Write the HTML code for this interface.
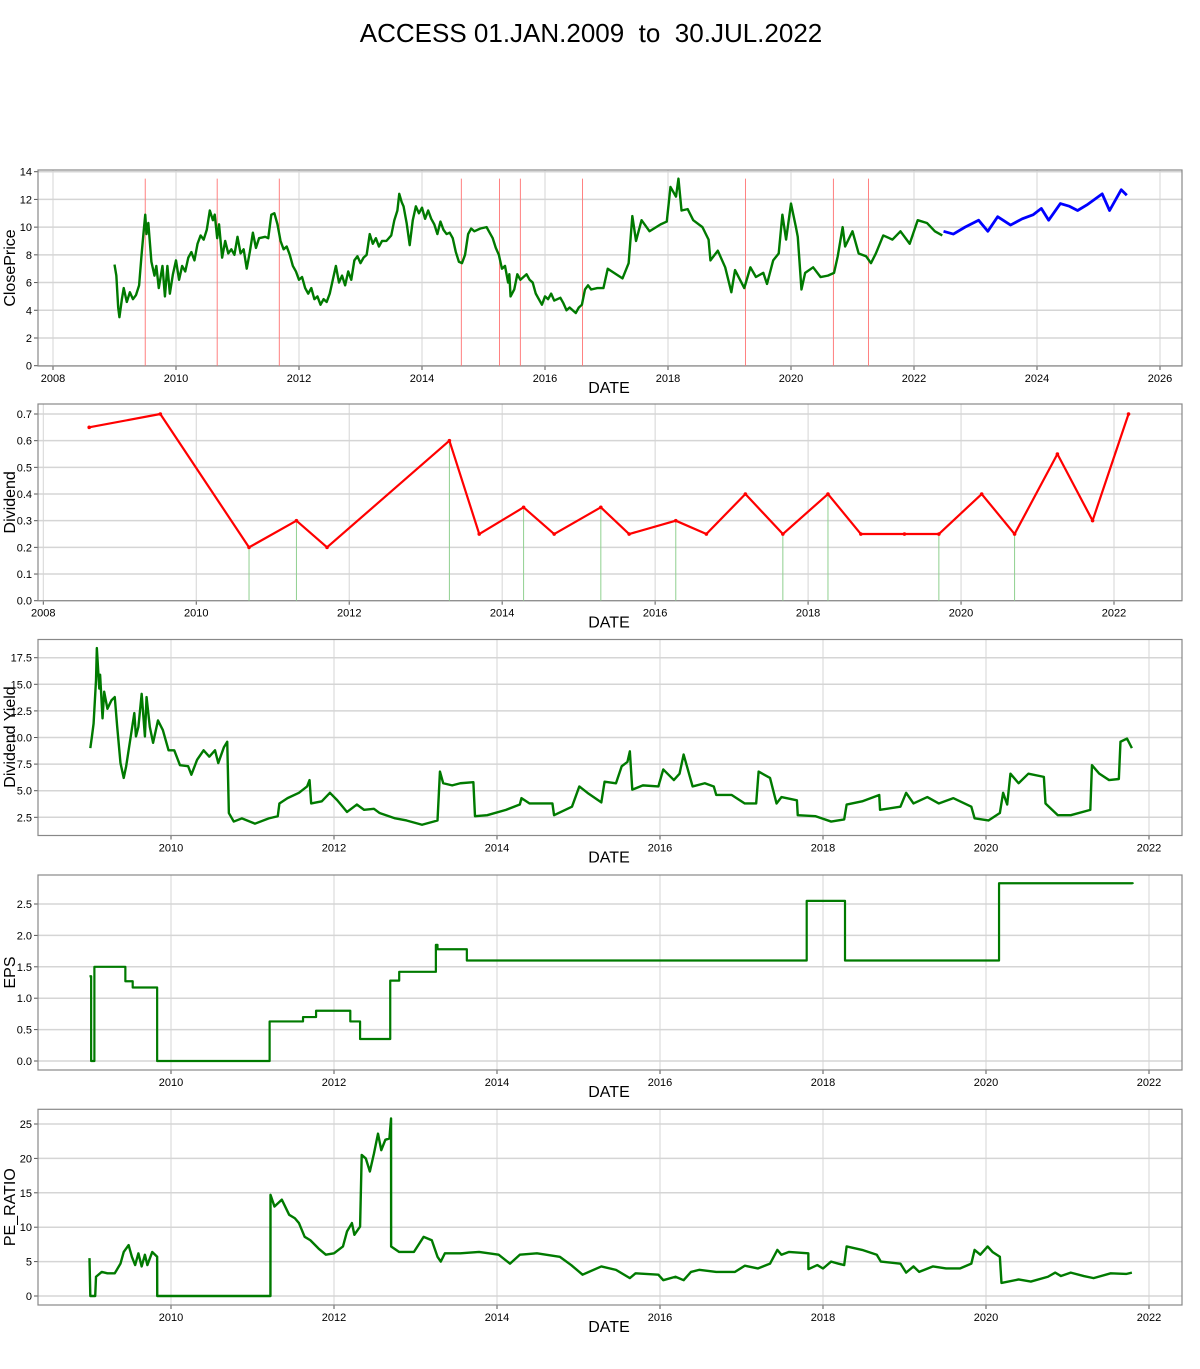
<!DOCTYPE html>
<html><head><meta charset="utf-8"><style>
html,body{margin:0;padding:0;background:#fff;}
svg{display:block;font-family:"Liberation Sans","DejaVu Sans",sans-serif;}
</style></head><body>
<svg id="chart" width="1200" height="1369" viewBox="0 0 1200 1369" xmlns="http://www.w3.org/2000/svg">
<rect width="1200" height="1369" fill="#fff"/>
<text x="591" y="42" font-size="26" text-anchor="middle" fill="#000" xml:space="preserve" style="white-space:pre">ACCESS 01.JAN.2009  to  30.JUL.2022</text>
</svg>
<script>
// ---- Close price data ----
const closeDates=[2009.0,2009.03,2009.06,2009.08,2009.12,2009.15,2009.2,2009.25,2009.3,2009.35,2009.4,2009.44,2009.47,2009.5,2009.52,2009.55,2009.6,2009.65,2009.68,2009.72,2009.78,2009.82,2009.86,2009.9,2009.95,2010.0,2010.05,2010.1,2010.15,2010.2,2010.25,2010.3,2010.35,2010.4,2010.45,2010.5,2010.55,2010.6,2010.63,2010.67,2010.7,2010.75,2010.8,2010.85,2010.9,2010.95,2011.0,2011.05,2011.1,2011.15,2011.2,2011.25,2011.3,2011.35,2011.45,2011.5,2011.55,2011.6,2011.65,2011.7,2011.75,2011.8,2011.85,2011.9,2011.95,2012.0,2012.05,2012.1,2012.15,2012.2,2012.25,2012.3,2012.35,2012.4,2012.45,2012.5,2012.55,2012.6,2012.65,2012.7,2012.75,2012.8,2012.85,2012.9,2012.95,2013.0,2013.05,2013.1,2013.15,2013.2,2013.25,2013.3,2013.35,2013.42,2013.5,2013.55,2013.6,2013.63,2013.67,2013.7,2013.75,2013.8,2013.85,2013.9,2013.95,2014.0,2014.05,2014.1,2014.15,2014.2,2014.25,2014.3,2014.35,2014.4,2014.45,2014.5,2014.55,2014.6,2014.65,2014.7,2014.75,2014.8,2014.85,2014.95,2015.05,2015.1,2015.15,2015.2,2015.25,2015.3,2015.35,2015.4,2015.42,2015.44,2015.5,2015.55,2015.6,2015.65,2015.7,2015.75,2015.8,2015.85,2015.9,2015.95,2016.0,2016.05,2016.1,2016.15,2016.25,2016.3,2016.35,2016.4,2016.45,2016.5,2016.55,2016.6,2016.65,2016.7,2016.75,2016.85,2016.95,2017.02,2017.26,2017.36,2017.42,2017.48,2017.57,2017.7,2017.88,2017.98,2018.04,2018.13,2018.17,2018.22,2018.32,2018.41,2018.56,2018.66,2018.69,2018.81,2018.93,2019.03,2019.09,2019.24,2019.34,2019.43,2019.55,2019.61,2019.71,2019.8,2019.86,2019.92,2020.0,2020.08,2020.11,2020.17,2020.23,2020.36,2020.48,2020.6,2020.7,2020.76,2020.84,2020.88,2021.0,2021.1,2021.22,2021.3,2021.38,2021.5,2021.65,2021.78,2021.93,2022.06,2022.21,2022.34,2022.46];
const closeVals=[7.3,6.5,4.2,3.5,4.8,5.6,4.6,5.3,4.8,5.1,5.8,8,9.5,10.9,9.5,10.3,7.5,6.5,7.2,5.6,7.2,5.0,7.2,5.2,6.6,7.6,6.2,7.2,6.8,7.8,8.2,7.6,8.8,9.4,9.1,9.8,11.2,10.5,10.9,9.2,10.2,7.8,9.0,8.1,8.4,8.0,9.3,8.1,8.4,7.0,8.2,9.6,8.5,9.2,9.3,9.2,10.9,11.0,10.2,9.0,8.4,8.6,8.0,7.2,6.8,6.2,6.4,5.6,5.2,5.6,4.8,5.0,4.4,4.8,4.6,5.2,6.2,7.2,6.0,6.5,5.8,6.8,6.2,7.6,7.9,7.4,7.8,8.0,9.5,8.8,9.2,8.6,9.0,9.0,9.4,10.5,11.2,12.4,11.8,11.5,10.3,8.7,10.5,11.5,11.0,11.4,10.6,11.2,10.6,10.2,9.5,10.4,9.8,9.5,9.6,9.2,8.2,7.5,7.4,8.0,9.5,9.9,9.7,9.9,10.0,9.6,9.2,8.5,8.0,7.0,7.2,6.0,6.6,5.0,5.5,6.6,6.2,6.4,6.6,6.2,6.0,5.2,4.8,4.4,5.0,4.8,5.2,4.7,4.9,4.5,4.0,4.2,4.0,3.8,4.2,4.4,5.5,5.8,5.5,5.6,5.6,7.0,6.3,7.4,10.8,9.0,10.5,9.7,10.2,10.4,12.9,12.2,13.5,11.2,11.3,10.5,10.0,9.1,7.6,8.3,7.1,5.3,6.9,5.6,7.1,6.4,6.7,5.9,7.6,8.1,10.9,9.1,11.7,10.0,9.3,5.5,6.7,7.1,6.4,6.5,6.7,7.9,10.0,8.6,9.7,8.1,7.9,7.4,8.1,9.4,9.1,9.7,8.8,10.5,10.3,9.7,9.4];
const forecastDates=[2022.48,2022.64,2022.83,2023.05,2023.2,2023.36,2023.57,2023.76,2023.94,2024.07,2024.19,2024.38,2024.53,2024.66,2024.81,2025.06,2025.18,2025.37,2025.46];
const forecastVals=[9.7,9.5,10.0,10.5,9.7,10.75,10.15,10.6,10.9,11.35,10.5,11.7,11.5,11.2,11.6,12.4,11.2,12.7,12.3];
const exDivDates=[2009.5,2010.67,2011.68,2014.64,2015.26,2015.6,2016.61,2019.26,2020.69,2021.26];
const closeTicksY=[0,2,4,6,8,10,12,14];
const closeTicksX=[2008,2010,2012,2014,2016,2018,2020,2022,2024,2026];
// ---- Dividend data ----
const divDates=[2008.6,2009.53,2010.69,2011.31,2011.71,2013.31,2013.7,2014.28,2014.68,2015.29,2015.66,2016.27,2016.67,2017.18,2017.67,2018.26,2018.69,2019.26,2019.71,2020.27,2020.7,2021.26,2021.72,2022.19];
const divVals=[0.65,0.70,0.20,0.30,0.20,0.60,0.25,0.35,0.25,0.35,0.25,0.30,0.25,0.40,0.25,0.40,0.25,0.25,0.25,0.40,0.25,0.55,0.30,0.70];
const payDates=[2010.69,2011.31,2013.31,2014.28,2015.29,2016.27,2017.67,2018.26,2019.71,2020.7];
const payVals=[0.20,0.30,0.60,0.35,0.35,0.30,0.25,0.40,0.25,0.25];
const divTicksY=[0,0.1,0.2,0.3,0.4,0.5,0.6,0.7];
const divTicksX=[2008,2010,2012,2014,2016,2018,2020,2022];
// ---- Dividend yield ----
const yieldDates=[2009.01,2009.03,2009.05,2009.08,2009.09,2009.12,2009.13,2009.16,2009.18,2009.22,2009.27,2009.31,2009.34,2009.38,2009.42,2009.45,2009.5,2009.55,2009.57,2009.6,2009.64,2009.68,2009.7,2009.74,2009.78,2009.84,2009.9,2009.97,2010.04,2010.11,2010.21,2010.25,2010.32,2010.4,2010.47,2010.54,2010.58,2010.65,2010.69,2010.71,2010.77,2010.87,2011.03,2011.2,2011.31,2011.33,2011.43,2011.57,2011.67,2011.7,2011.72,2011.85,2011.95,2012.04,2012.16,2012.28,2012.37,2012.49,2012.56,2012.75,2012.89,2013.08,2013.27,2013.3,2013.34,2013.45,2013.55,2013.71,2013.73,2013.88,2014.11,2014.28,2014.3,2014.4,2014.68,2014.7,2014.92,2015.01,2015.11,2015.28,2015.32,2015.46,2015.53,2015.6,2015.63,2015.66,2015.79,2015.98,2016.04,2016.17,2016.24,2016.29,2016.4,2016.55,2016.66,2016.69,2016.88,2017.04,2017.18,2017.21,2017.35,2017.43,2017.49,2017.68,2017.69,2017.91,2018.1,2018.26,2018.29,2018.48,2018.69,2018.7,2018.95,2019.02,2019.11,2019.28,2019.42,2019.6,2019.82,2019.86,2020.03,2020.17,2020.21,2020.26,2020.3,2020.4,2020.52,2020.71,2020.73,2020.88,2021.04,2021.28,2021.3,2021.39,2021.51,2021.63,2021.65,2021.73,2021.79];
const yieldVals=[9.0,10.1,11.3,15.4,18.4,14.6,15.9,11.8,14.3,12.7,13.5,13.8,11.0,7.6,6.2,7.3,9.8,12.3,10.1,11.0,14.1,10.1,13.8,11.0,9.5,11.6,10.7,8.8,8.8,7.4,7.3,6.5,7.9,8.8,8.2,8.8,7.6,9.1,9.6,2.9,2.1,2.4,1.9,2.4,2.6,3.8,4.3,4.8,5.4,6.0,3.8,4.0,4.8,4.1,3.0,3.7,3.2,3.3,2.9,2.4,2.2,1.8,2.2,6.8,5.7,5.5,5.7,5.8,2.6,2.7,3.2,3.7,4.3,3.8,3.8,2.7,3.5,5.4,4.8,3.9,5.85,5.7,7.3,7.7,8.7,5.1,5.5,5.4,7.0,6.0,6.6,8.4,5.4,5.7,5.4,4.6,4.6,3.8,3.8,6.8,6.2,3.8,4.4,4.1,2.7,2.6,2.1,2.3,3.7,4.0,4.6,3.2,3.5,4.8,3.8,4.4,3.8,4.3,3.5,2.4,2.2,2.9,4.8,3.7,6.6,5.7,6.6,6.3,3.8,2.7,2.7,3.2,7.4,6.6,6.0,6.1,9.6,9.9,9.0];
const yieldTicksY=[2.5,5.0,7.5,10.0,12.5,15.0,17.5];
const lowTicksX=[2010,2012,2014,2016,2018,2020,2022];
// ---- EPS (step series) ----
const epsDates=[2009.0,2009.02,2009.06,2009.44,2009.53,2009.83,2011.21,2011.62,2011.78,2012.2,2012.32,2012.69,2012.8,2013.25,2013.27,2013.63,2017.8,2018.27,2020.16,2021.8];
const epsVals=[1.35,0,1.5,1.27,1.17,0,0.63,0.7,0.8,0.63,0.35,1.28,1.42,1.85,1.78,1.6,2.55,1.6,2.83,2.82];
const epsTicksY=[0,0.5,1.0,1.5,2.0,2.5];
// ---- PE ratio ----
const peDates=[2009.0,2009.01,2009.07,2009.08,2009.15,2009.22,2009.31,2009.38,2009.42,2009.48,2009.52,2009.56,2009.6,2009.64,2009.68,2009.71,2009.77,2009.83,2009.831,2011.22,2011.221,2011.27,2011.36,2011.45,2011.52,2011.57,2011.64,2011.71,2011.81,2011.9,2012.0,2012.11,2012.16,2012.22,2012.25,2012.32,2012.34,2012.39,2012.44,2012.49,2012.54,2012.58,2012.63,2012.68,2012.7,2012.701,2012.8,2012.89,2012.98,2013.1,2013.2,2013.27,2013.31,2013.36,2013.55,2013.78,2014.02,2014.16,2014.28,2014.49,2014.77,2014.91,2015.05,2015.28,2015.46,2015.63,2015.7,2015.98,2016.04,2016.19,2016.29,2016.38,2016.48,2016.69,2016.92,2017.04,2017.2,2017.35,2017.44,2017.49,2017.58,2017.82,2017.821,2017.93,2018.0,2018.1,2018.19,2018.26,2018.29,2018.48,2018.66,2018.71,2018.95,2019.02,2019.11,2019.18,2019.35,2019.51,2019.68,2019.82,2019.86,2019.93,2020.02,2020.08,2020.17,2020.19,2020.4,2020.55,2020.76,2020.85,2020.92,2021.04,2021.2,2021.32,2021.53,2021.72,2021.79];
const peVals=[5.5,0,0,2.8,3.5,3.3,3.3,4.7,6.4,7.4,5.7,4.5,6.2,4.3,6.0,4.5,6.4,5.7,0,0,14.7,13.0,14.0,11.8,11.3,10.6,8.6,8.1,6.9,6.0,6.2,7.2,9.4,10.6,8.9,10.1,20.5,20.0,18.1,20.7,23.6,21.2,22.7,22.9,25.8,7.2,6.4,6.4,6.4,8.6,8.1,5.7,5.0,6.2,6.2,6.4,6.0,4.7,6.0,6.2,5.7,4.5,3.1,4.3,3.8,2.6,3.3,3.1,2.3,2.8,2.3,3.5,3.8,3.5,3.5,4.4,4.0,4.7,6.7,6.0,6.4,6.2,3.9,4.5,4.0,5.0,4.7,4.5,7.2,6.7,6.0,5.0,4.7,3.4,4.3,3.5,4.3,4.0,4.0,4.7,6.7,6.0,7.2,6.4,5.7,1.9,2.4,2.1,2.8,3.4,2.9,3.4,2.9,2.6,3.3,3.2,3.4];
const peTicksY=[0,5,10,15,20,25];

const svg=document.getElementById('chart');
const NS='http://www.w3.org/2000/svg';
function el(tag,attrs,parent){const e=document.createElementNS(NS,tag);for(const k in attrs)e.setAttribute(k,attrs[k]);(parent||svg).appendChild(e);return e;}
function lin(d0,d1,r0,r1){return v=>r0+(v-d0)*(r1-r0)/(d1-d0);}
function fmt(v,dec){return dec?v.toFixed(dec):String(v);}

function axes(name,box,xs,ys,xt,yt,dec,ylabel,yLabelY){
  const g=el('g',{});
  
  
  xt.forEach(t=>{const x=xs(t);
    const l=el('line',{x1:x,x2:x,y1:box.t,y2:box.b,stroke:'#d5d5d5','stroke-width':1},g);
    
    el('line',{x1:x,x2:x,y1:box.b,y2:box.b+4,stroke:'#555','stroke-width':1},g);
    const tx=el('text',{x:x,y:box.b+16,'font-size':11,'text-anchor':'middle',fill:'#000'},g);tx.textContent=t;
    });
  yt.forEach(t=>{const y=ys(t);
    const l=el('line',{x1:box.l,x2:box.r,y1:y,y2:y,stroke:'#d5d5d5','stroke-width':1.5},g);
    
    el('line',{x1:box.l-4,x2:box.l,y1:y,y2:y,stroke:'#555','stroke-width':1},g);
    const tx=el('text',{x:box.l-6,y:y+4,'font-size':11,'text-anchor':'end',fill:'#000'},g);tx.textContent=fmt(t,dec);
    });
  const r=el('rect',{x:box.l,y:box.t,width:box.r-box.l,height:box.b-box.t,fill:'none',stroke:'#888','stroke-width':1.2},g);
  
  const xl=el('text',{x:609,y:box.b+27,'font-size':16,'text-anchor':'middle',fill:'#000'},g);xl.textContent='DATE';
  
  const yc=yLabelY||(box.t+box.b)/2;
  const yl=el('text',{x:0,y:0,'font-size':16,'text-anchor':'middle',fill:'#000',transform:`translate(15,${yc}) rotate(-90)`},g);yl.textContent=ylabel;
  
}
function line(dates,vals,xs,ys,color,w,name,step){
  let d='';
  dates.forEach((t,i)=>{const x=xs(t),y=ys(vals[i]);
    if(i===0)d+=`M${x},${y}`;else{ if(step)d+=`L${x},${ys(vals[i-1])}`; d+=`L${x},${y}`;}});
  const p=el('path',{d:d,fill:'none',stroke:color,'stroke-width':w,'stroke-linejoin':'round'});
  
  
  return p;
}

// Panel 1: ClosePrice
{const box={l:38,r:1182,t:170,b:366};
 const xs=lin(2008,2026,53,1160), ys=lin(0,14,365.7,171.7);
 axes('close-price',box,xs,ys,closeTicksX,closeTicksY,0,'ClosePrice');
 exDivDates.forEach(t=>{const l=el('line',{x1:xs(t),x2:xs(t),y1:ys(13.5),y2:ys(0),stroke:'#ff8080','stroke-width':1});
   });
 line(closeDates,closeVals,xs,ys,'#007a00',2.4,'close-price-line');
 line(forecastDates,forecastVals,xs,ys,'#0000ff',2.8,'forecast-line');
}
// Panel 2: Dividend
{const box={l:38,r:1182,t:404,b:600.7};
 const xs=lin(2008,2022,43.3,1114), ys=lin(0,0.7,600.7,414);
 axes('dividend',box,xs,ys,divTicksX,divTicksY,1,'Dividend');
 payDates.forEach((t,i)=>{const l=el('line',{x1:xs(t),x2:xs(t),y1:ys(payVals[i]),y2:ys(0),stroke:'#90d090','stroke-width':1});
   });
 line(divDates,divVals,xs,ys,'#ff0000',2.2,'dividend-line');
 divDates.forEach((t,i)=>{const c=el('circle',{cx:xs(t),cy:ys(divVals[i]),r:1.8,fill:'#ff0000'});
   });
}
const lowXs=lin(2010,2022,171,1149);
// Panel 3: Dividend Yield
{const box={l:38,r:1182,t:639.5,b:835.5};
 const ys=lin(2.5,17.5,817.3,657.7);
 axes('dividend-yield',box,lowXs,ys,lowTicksX,yieldTicksY,1,'Dividend Yield',737);
 line(yieldDates,yieldVals,lowXs,ys,'#007a00',2.4,'dividend-yield-line');
}
// Panel 4: EPS
{const box={l:38,r:1182,t:875,b:1070};
 const ys=lin(0,2.5,1061,904);
 axes('eps',box,lowXs,ys,lowTicksX,epsTicksY,1,'EPS');
 line(epsDates,epsVals,lowXs,ys,'#007a00',2.2,'eps-line',true);
}
// Panel 5: PE ratio
{const box={l:38,r:1182,t:1109.3,b:1305};
 const ys=lin(0,25,1296,1124);
 axes('pe-ratio',box,lowXs,ys,lowTicksX,peTicksY,0,'PE_RATIO');
 line(peDates,peVals,lowXs,ys,'#007a00',2.4,'pe-ratio-line');
}
</script>
</body></html>
